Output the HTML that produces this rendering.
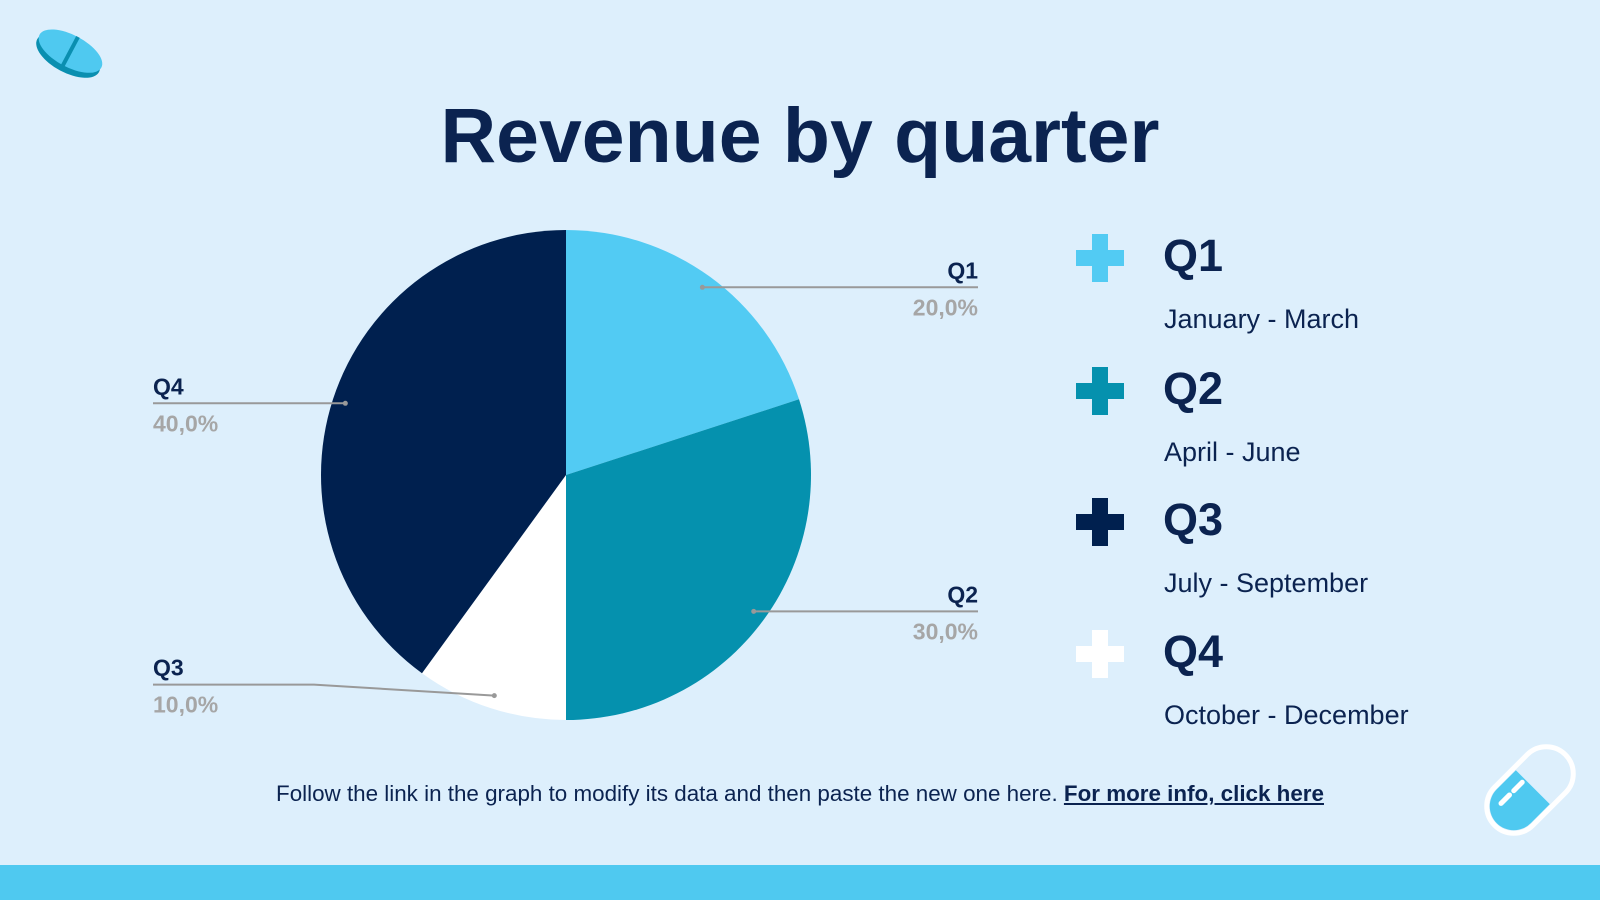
<!DOCTYPE html>
<html><head><meta charset="utf-8">
<style>
html,body{margin:0;padding:0}
body{width:1600px;height:900px;background:#ddeffc;position:relative;overflow:hidden;font-family:"Liberation Sans",sans-serif;color:#0b2350}
.abs{position:absolute}
#title{left:0;width:1600px;top:92px;text-align:center;font-size:77px;font-weight:bold;margin:0}
.lq{font-size:45px;font-weight:bold;left:1163px}
.ls{font-size:27px;left:1164px;color:#0b2350}
#foot{left:0;width:1600px;top:781px;text-align:center;font-size:22.4px}
#foot a{color:#0b2350;font-weight:bold;text-decoration:underline}
#band{left:0;top:865px;width:1600px;height:35px;background:#4fc9f0}
</style></head><body>
<svg class="abs" style="left:0;top:0" width="160" height="120">
<g transform="rotate(28 70 52)"><ellipse cx="70" cy="56" rx="35" ry="17" fill="#0a8fb0"/><ellipse cx="70" cy="51" rx="35" ry="16" fill="#4fc9f0"/><line x1="70" y1="35" x2="70" y2="70" stroke="#0a8fb0" stroke-width="4"/></g>
</svg>
<svg class="abs" style="left:1460px;top:730px" width="140" height="140">
<g transform="rotate(-45 70 60)"><rect x="20" y="33" width="100" height="54" rx="27" fill="none" stroke="#fff" stroke-width="5"/><path d="M74 36 H47 a24 24 0 0 0 0 48 H74 Z" fill="#4fc9f0"/><line x1="40" y1="49" x2="52" y2="49" stroke="#fff" stroke-width="5" stroke-linecap="round"/><line x1="58" y1="49" x2="70" y2="49" stroke="#fff" stroke-width="5" stroke-linecap="round"/></g>
</svg>
<h1 id="title" class="abs">Revenue by quarter</h1>
<svg id="pie" class="abs" style="left:0;top:0" width="1600" height="900"></svg>
<div id="legend"></div>
<div id="foot" class="abs">Follow the link in the graph to modify its data and then paste the new one here. <a>For more info, click here</a></div>
<div id="band" class="abs"></div>
<script>
const categories=["Q1","Q2","Q3","Q4"];
const values=[20,30,10,40];
const valueLabels=["20,0%","30,0%","10,0%","40,0%"];
const subtitles=["January - March","April - June","July - September","October - December"];
const colors=["#52cbf3","#0591ae","#ffffff","#00204f"];
const legendColors=["#52cbf3","#0591ae","#00204f","#ffffff"];
const NS="http://www.w3.org/2000/svg";
const svg=document.getElementById('pie');
const cx=566,cy=475,r=245;
const total=values.reduce((a,b)=>a+b,0);
function pt(frac,rad){const a=frac*2*Math.PI;return[cx+rad*Math.sin(a),cy-rad*Math.cos(a)];}
let acc=0;
const mids=[];
values.forEach((v,i)=>{
  const s=acc/total,e=(acc+v)/total;acc+=v;
  const p0=pt(s,r),p1=pt(e,r);
  const large=(e-s)>0.5?1:0;
  const p=document.createElementNS(NS,'path');
  p.setAttribute('d',`M${cx},${cy} L${p0[0]},${p0[1]} A${r},${r} 0 ${large} 1 ${p1[0]},${p1[1]} Z`);
  p.setAttribute('fill',colors[i]);
  
  
  svg.appendChild(p);
  mids.push(pt((s+e)/2,r*0.947));
});
function addText(x,y,t,anchor,fill,name){
  const el=document.createElementNS(NS,'text');
  el.setAttribute('x',x);el.setAttribute('y',y);el.setAttribute('text-anchor',anchor);
  el.setAttribute('font-family','Liberation Sans, sans-serif');el.setAttribute('font-weight','bold');
  el.setAttribute('font-size','23');el.setAttribute('fill',fill);el.textContent=t;
  
  
  svg.appendChild(el);
}
mids.forEach((m,i)=>{
  const right=m[0]>cx;
  const bottomLeft=!right&&m[1]>cy+150;
  const lineY=bottomLeft?m[1]-11:m[1];
  const xEnd=right?978:153;
  const g=document.createElementNS(NS,'polyline');
  g.setAttribute('points',bottomLeft?`${m[0]},${m[1]} 314,${lineY} ${xEnd},${lineY}`:`${m[0]},${lineY} ${xEnd},${lineY}`);
  g.setAttribute('fill','none');g.setAttribute('stroke','#999');g.setAttribute('stroke-width','2');
  
  
  svg.appendChild(g);
  const d=document.createElementNS(NS,'circle');
  d.setAttribute('cx',m[0]);d.setAttribute('cy',m[1]);d.setAttribute('r','2.5');d.setAttribute('fill','#999');
  
  
  svg.appendChild(d);
  const anchor=right?'end':'start';
  addText(xEnd,lineY-9,categories[i],anchor,'#0b2350','label-'+categories[i].toLowerCase());
  addText(xEnd,lineY+28,valueLabels[i],anchor,'#a6a6a6','value-'+categories[i].toLowerCase());
});
const lg=document.getElementById('legend');
const legendY=[258,391,522,654];
categories.forEach((c,i)=>{
  const y=legendY[i];
  const ic=document.createElementNS(NS,'svg');
  ic.setAttribute('width','48');ic.setAttribute('height','48');
  ic.setAttribute('class','abs');ic.setAttribute('style',`left:1076px;top:${y-24}px`);
  
  
  ic.innerHTML=`<path d="M16 0h16v16h16v16H32v16H16V32H0V16h16z" fill="${legendColors[i]}"/>`;
  lg.appendChild(ic);
  const q=document.createElement('div');
  q.className='abs lq';q.style.top=(y-28)+'px';q.textContent=c;
  
  
  lg.appendChild(q);
  const s=document.createElement('div');
  s.className='abs ls';s.style.top=(y+46)+'px';s.textContent=subtitles[i];
  
  
  lg.appendChild(s);
});
</script>
</body></html>
